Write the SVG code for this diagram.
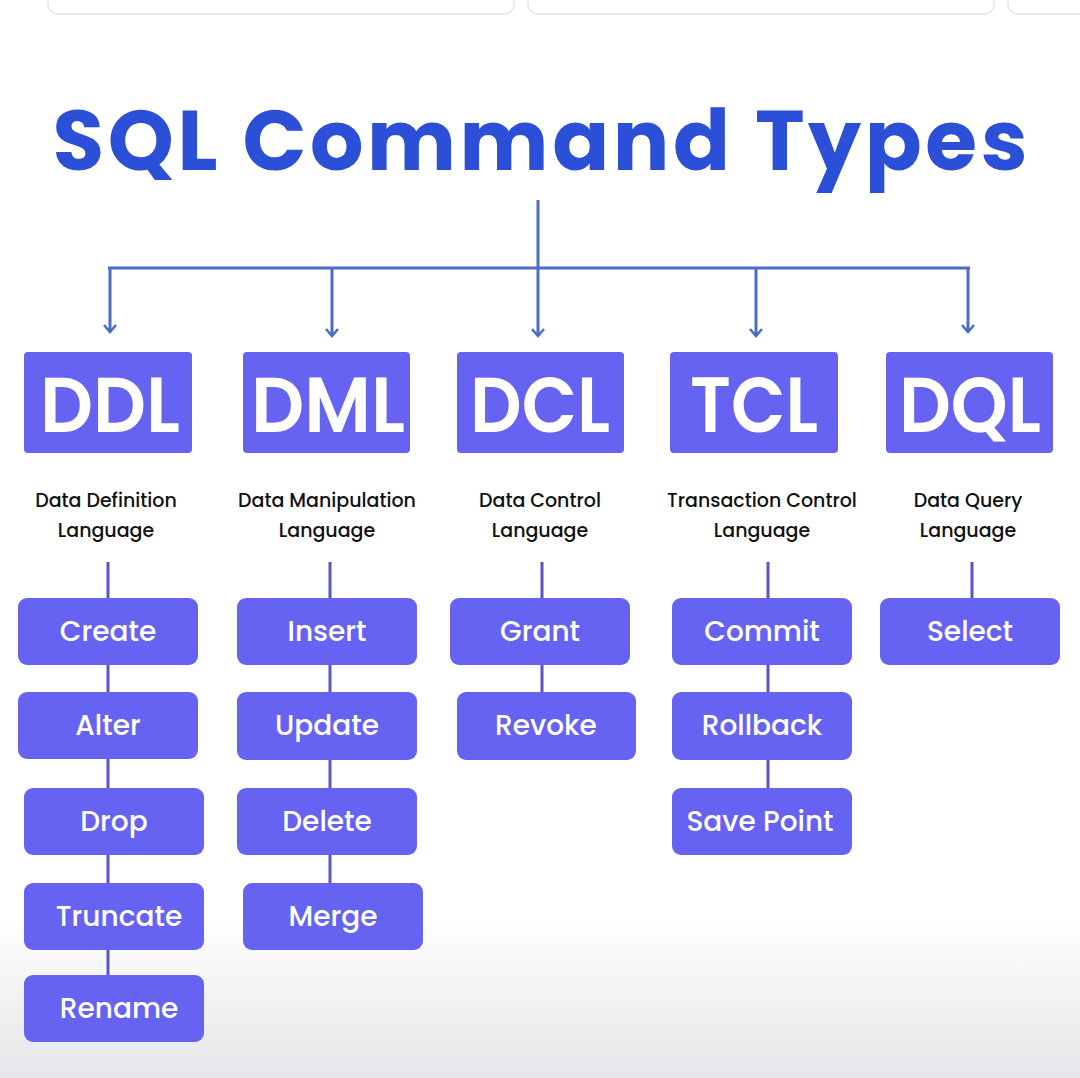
<svg xmlns="http://www.w3.org/2000/svg" width="1080" height="1078" viewBox="0 0 1080 1078">
<style>
.big{fill:#6662f2}
.sm{fill:#6662f2}
.bt{font-family:Poppins,"Open Sans","Liberation Sans",sans-serif;font-weight:600;font-size:78px;fill:#fff;text-anchor:middle}
.st{font-family:Poppins,"Open Sans","Liberation Sans",sans-serif;font-weight:500;font-size:28px;fill:#fff;text-anchor:middle}
.lb{font-family:Poppins,"Open Sans","Liberation Sans",sans-serif;font-weight:500;font-size:19px;fill:#111;text-anchor:middle}
.c{stroke:#4d6cc4;stroke-width:3;fill:none}
.v{stroke:#5a55c0;stroke-width:3;fill:none}
</style>
<defs>
<linearGradient id="bg" x1="0" y1="0" x2="0" y2="1"><stop offset="0.85" stop-color="#fff"/><stop offset="1" stop-color="#e6e6ea"/></linearGradient>
<marker id="ar" viewBox="0 0 12 14" refX="10" refY="7" markerWidth="12" markerHeight="14" orient="auto" markerUnits="userSpaceOnUse"><path d="M3,1 L10,7 L3,13" stroke="#4d6cc4" stroke-width="2.5" fill="none"/></marker>
</defs>
<rect width="1080" height="1078" fill="url(#bg)"/>
<g fill="none" stroke="#e6e6ea" stroke-width="1.5">
<path d="M48,0 V4 a10,10 0 0 0 10,10 H504 a10,10 0 0 0 10,-10 V0"/>
<path d="M528,0 V4 a10,10 0 0 0 10,10 H984 a10,10 0 0 0 10,-10 V0"/>
<path d="M1008,0 V4 a10,10 0 0 0 10,10 H1080"/>
</g>
<text x="540" y="170" font-family="Poppins,Montserrat,'Open Sans','Liberation Sans',sans-serif" font-weight="700" font-size="84" fill="#2b4fd6" text-anchor="middle" textLength="975" lengthAdjust="spacing">SQL Command Types</text>
<g id="connectors">
<path class="c" d="M538,200 V268 M108,268 H970"/>
<path class="c" marker-end="url(#ar)" d="M110,268 V332"/>
<path class="c" marker-end="url(#ar)" d="M332,268 V336"/>
<path class="c" marker-end="url(#ar)" d="M538,268 V336"/>
<path class="c" marker-end="url(#ar)" d="M756,268 V336"/>
<path class="c" marker-end="url(#ar)" d="M968,268 V332"/>
<path class="v" d="M108,562 V975 M330,562 V883 M542,562 V692 M768,562 V788 M972,562 V598"/>
</g>
<g id="ddl"><rect class="big" x="24" y="352" width="168" height="101" rx="4"/><text class="bt" x="110" y="432" textLength="140" lengthAdjust="spacingAndGlyphs">DDL</text>
<text class="lb" x="106" y="507">Data Definition</text><text class="lb" x="106" y="537">Language</text></g>
<g id="dml"><rect class="big" x="243" y="352" width="167" height="101" rx="4"/><text class="bt" x="328" y="432" textLength="154" lengthAdjust="spacingAndGlyphs">DML</text>
<text class="lb" x="327" y="507">Data Manipulation</text><text class="lb" x="327" y="537">Language</text></g>
<g id="dcl"><rect class="big" x="457" y="352" width="167" height="101" rx="4"/><text class="bt" x="540" y="432" textLength="140" lengthAdjust="spacingAndGlyphs">DCL</text>
<text class="lb" x="540" y="507">Data Control</text><text class="lb" x="540" y="537">Language</text></g>
<g id="tcl"><rect class="big" x="670" y="352" width="168" height="101" rx="4"/><text class="bt" x="754" y="432" textLength="128" lengthAdjust="spacingAndGlyphs">TCL</text>
<text class="lb" x="762" y="507">Transaction Control</text><text class="lb" x="762" y="537">Language</text></g>
<g id="dql"><rect class="big" x="886" y="352" width="167" height="101" rx="4"/><text class="bt" x="970" y="432" textLength="142" lengthAdjust="spacingAndGlyphs">DQL</text>
<text class="lb" x="968" y="507">Data Query</text><text class="lb" x="968" y="537">Language</text></g>
<g id="create"><rect class="sm" x="18" y="598" width="180" height="67" rx="9"/><text class="st" x="108" y="641">Create</text></g>
<g id="alter"><rect class="sm" x="18" y="692" width="180" height="67" rx="9"/><text class="st" x="108" y="735">Alter</text></g>
<g id="drop"><rect class="sm" x="24" y="788" width="180" height="67" rx="9"/><text class="st" x="114" y="831">Drop</text></g>
<g id="truncate"><rect class="sm" x="24" y="883" width="180" height="67" rx="9"/><text class="st" x="119" y="926">Truncate</text></g>
<g id="rename"><rect class="sm" x="24" y="975" width="180" height="67" rx="9"/><text class="st" x="119" y="1018">Rename</text></g>
<g id="insert"><rect class="sm" x="237" y="598" width="180" height="67" rx="9"/><text class="st" x="327" y="641">Insert</text></g>
<g id="update"><rect class="sm" x="237" y="692" width="180" height="68" rx="9"/><text class="st" x="327" y="735">Update</text></g>
<g id="delete"><rect class="sm" x="237" y="788" width="180" height="67" rx="9"/><text class="st" x="327" y="831">Delete</text></g>
<g id="merge"><rect class="sm" x="243" y="883" width="180" height="67" rx="9"/><text class="st" x="333" y="926">Merge</text></g>
<g id="grant"><rect class="sm" x="450" y="598" width="180" height="67" rx="9"/><text class="st" x="540" y="641">Grant</text></g>
<g id="revoke"><rect class="sm" x="457" y="692" width="179" height="68" rx="9"/><text class="st" x="546" y="735">Revoke</text></g>
<g id="commit"><rect class="sm" x="672" y="598" width="180" height="67" rx="9"/><text class="st" x="762" y="641">Commit</text></g>
<g id="rollback"><rect class="sm" x="672" y="692" width="180" height="68" rx="9"/><text class="st" x="762" y="735">Rollback</text></g>
<g id="savepoint"><rect class="sm" x="672" y="788" width="180" height="67" rx="9"/><text class="st" x="760" y="831">Save Point</text></g>
<g id="select"><rect class="sm" x="880" y="598" width="180" height="67" rx="9"/><text class="st" x="970" y="641">Select</text></g>
</svg>
